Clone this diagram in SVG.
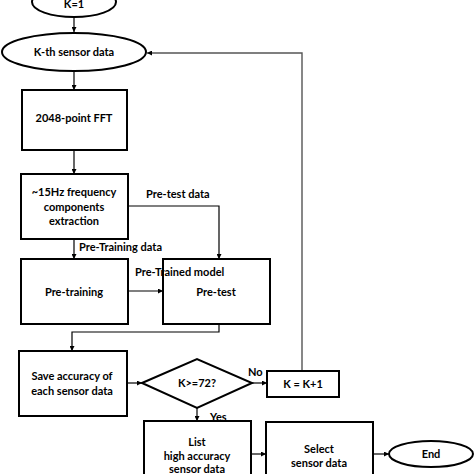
<svg xmlns="http://www.w3.org/2000/svg" width="474" height="474" viewBox="0 0 474 474">
<style>
.n{fill:#fff;stroke:#000;stroke-width:2}
.t{font-family:Lato,"Liberation Sans",sans-serif;font-weight:bold;font-size:11px;fill:#000;text-anchor:middle}
.l{font-family:Lato,"Liberation Sans",sans-serif;font-weight:bold;font-size:11px;fill:#000}
.c{fill:none;stroke:#000;stroke-width:1.2}
.g{fill:none;stroke:#555;stroke-width:1.4}
</style>
<defs>
<marker id="a" viewBox="0 0 6 6" refX="6" refY="3" markerWidth="5" markerHeight="5" orient="auto" markerUnits="userSpaceOnUse">
<path d="M0,0L6,3L0,6z" fill="#000"/>
</marker>
</defs>
<rect width="474" height="474" fill="#fff"/>
<g id="connectors">
<path class="c" d="M74,17V32" marker-end="url(#a)"/>
<path class="c" d="M74,71V90" marker-end="url(#a)"/>
<path class="c" d="M74,150V174" marker-end="url(#a)"/>
<path class="c" d="M74,239V259" marker-end="url(#a)"/>
<path class="c" d="M128,206H219V259" marker-end="url(#a)"/>
<path class="c" d="M128,291H163" marker-end="url(#a)"/>
<path class="c" d="M219,324V332H72V351" marker-end="url(#a)"/>
<path class="c" d="M127,383H142" marker-end="url(#a)"/>
<path class="c" d="M252,383H267" marker-end="url(#a)"/>
<path class="g" d="M302,371V53H147" marker-end="url(#a)"/>
<path class="c" d="M197,408V421" marker-end="url(#a)"/>
<path class="c" d="M251,454H266" marker-end="url(#a)"/>
<path class="c" d="M373,454H389" marker-end="url(#a)"/>
<text class="l" x="146" y="198">Pre-test data</text>
<text class="l" x="79" y="251">Pre-Training data</text>
<text class="l" x="248" y="376">No</text>
<text class="l" x="210" y="421">Yes</text>
</g>
<g id="start"><ellipse class="n" cx="74" cy="2" rx="42" ry="15"/><text class="t" x="74" y="8">K=1</text></g>
<g id="ksensor"><ellipse class="n" cx="74" cy="52" rx="72" ry="19"/><text class="t" x="74" y="56">K-th sensor data</text></g>
<g id="fft"><rect class="n" x="22" y="90" width="105" height="60"/><text class="t" x="74" y="122">2048-point FFT</text></g>
<g id="extract"><rect class="n" x="21" y="174" width="107" height="65"/><text class="t" x="74" y="196">~15Hz frequency</text><text class="t" x="74" y="211">components</text><text class="t" x="74" y="225">extraction</text></g>
<g id="pretraining"><rect class="n" x="21" y="259" width="107" height="65"/><text class="t" x="74" y="296">Pre-training</text></g>
<g id="pretest"><rect class="n" x="163" y="259" width="107" height="65"/><text class="t" x="216" y="296">Pre-test</text></g>
<text class="l" x="135" y="276">Pre-Trained model</text>
<g id="save"><rect class="n" x="19" y="351" width="108" height="65"/><text class="t" x="72" y="380">Save accuracy of</text><text class="t" x="72" y="395">each sensor data</text></g>
<g id="decision"><polygon class="n" points="142,383 197,359 252,383 197,408"/><text class="t" x="197" y="387">K&gt;=72?</text></g>
<g id="inc"><rect class="n" x="267" y="371" width="72" height="26"/><text class="t" x="303" y="388">K = K+1</text></g>
<g id="list"><rect class="n" x="144" y="421" width="107" height="60"/><text class="t" x="197" y="446">List</text><text class="t" x="197" y="460">high accuracy</text><text class="t" x="197" y="473">sensor data</text></g>
<g id="select"><rect class="n" x="266" y="422" width="107" height="60"/><text class="t" x="319" y="453">Select</text><text class="t" x="319" y="467">sensor data</text></g>
<g id="end"><ellipse class="n" cx="431" cy="454" rx="42" ry="13"/><text class="t" x="431" y="458">End</text></g>
</svg>
